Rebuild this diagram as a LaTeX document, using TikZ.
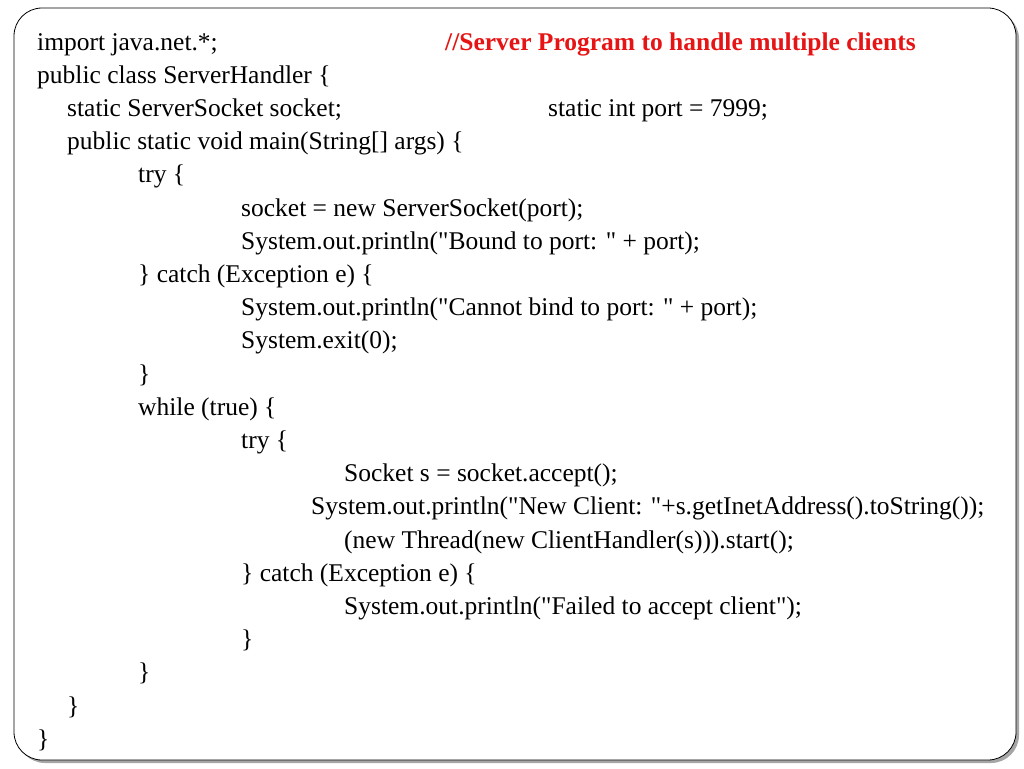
\documentclass[tikz,border=0pt]{standalone}
\usepackage{fontspec}
\setmainfont{Liberation Serif}[Ligatures=TeXOff]
\begin{document}
\begin{tikzpicture}[x=1pt,y=-1pt,
  code/.style={anchor=base west,inner sep=0pt,font=\fontsize{25.5}{28}\selectfont},
  note/.style={code,text={rgb,255:red,230;green,20;blue,20},font=\fontsize{25.5}{28}\selectfont\bfseries}]
\useasboundingbox (0,0) rectangle (1024,768);
\fill[black!35,rounded corners=28pt] (17,11) rectangle (1019,763);
\draw[fill=white,line width=0.8pt,rounded corners=28pt] (14,8) rectangle (1016,760);
\def\L#1#2#3{\node[code] (l#1) at (#2,{42+8+(#1-1)*33.2}) {#3};}
\L{1}{37}{import java.net.*;}
\node[note] (n1) at (445,50) {//Server Program to handle multiple clients};
\L{2}{37}{public class ServerHandler \{}
\L{3}{67}{static ServerSocket socket;}
\node[code] (p3) at (548,{50+2*33.2}) {static int port = 7999;};
\L{4}{67}{public static void main(String[] args) \{}
\L{5}{138}{try \{}
\L{6}{241}{socket = new ServerSocket(port);}
\L{7}{241}{System.out.println("Bound to port: " + port);}
\L{8}{138}{\} catch (Exception e) \{}
\L{9}{241}{System.out.println("Cannot bind to port: " + port);}
\L{10}{241}{System.exit(0);}
\L{11}{138}{\}}
\L{12}{138}{while (true) \{}
\L{13}{241}{try \{}
\L{14}{344}{Socket s = socket.accept();}
\L{15}{311}{System.out.println("New Client: "+s.getInetAddress().toString());}
\L{16}{344}{(new Thread(new ClientHandler(s))).start();}
\L{17}{241}{\} catch (Exception e) \{}
\L{18}{344}{System.out.println("Failed to accept client");}
\L{19}{241}{\}}
\L{20}{138}{\}}
\L{21}{67}{\}}
\L{22}{37}{\}}
\end{tikzpicture}
\end{document}
